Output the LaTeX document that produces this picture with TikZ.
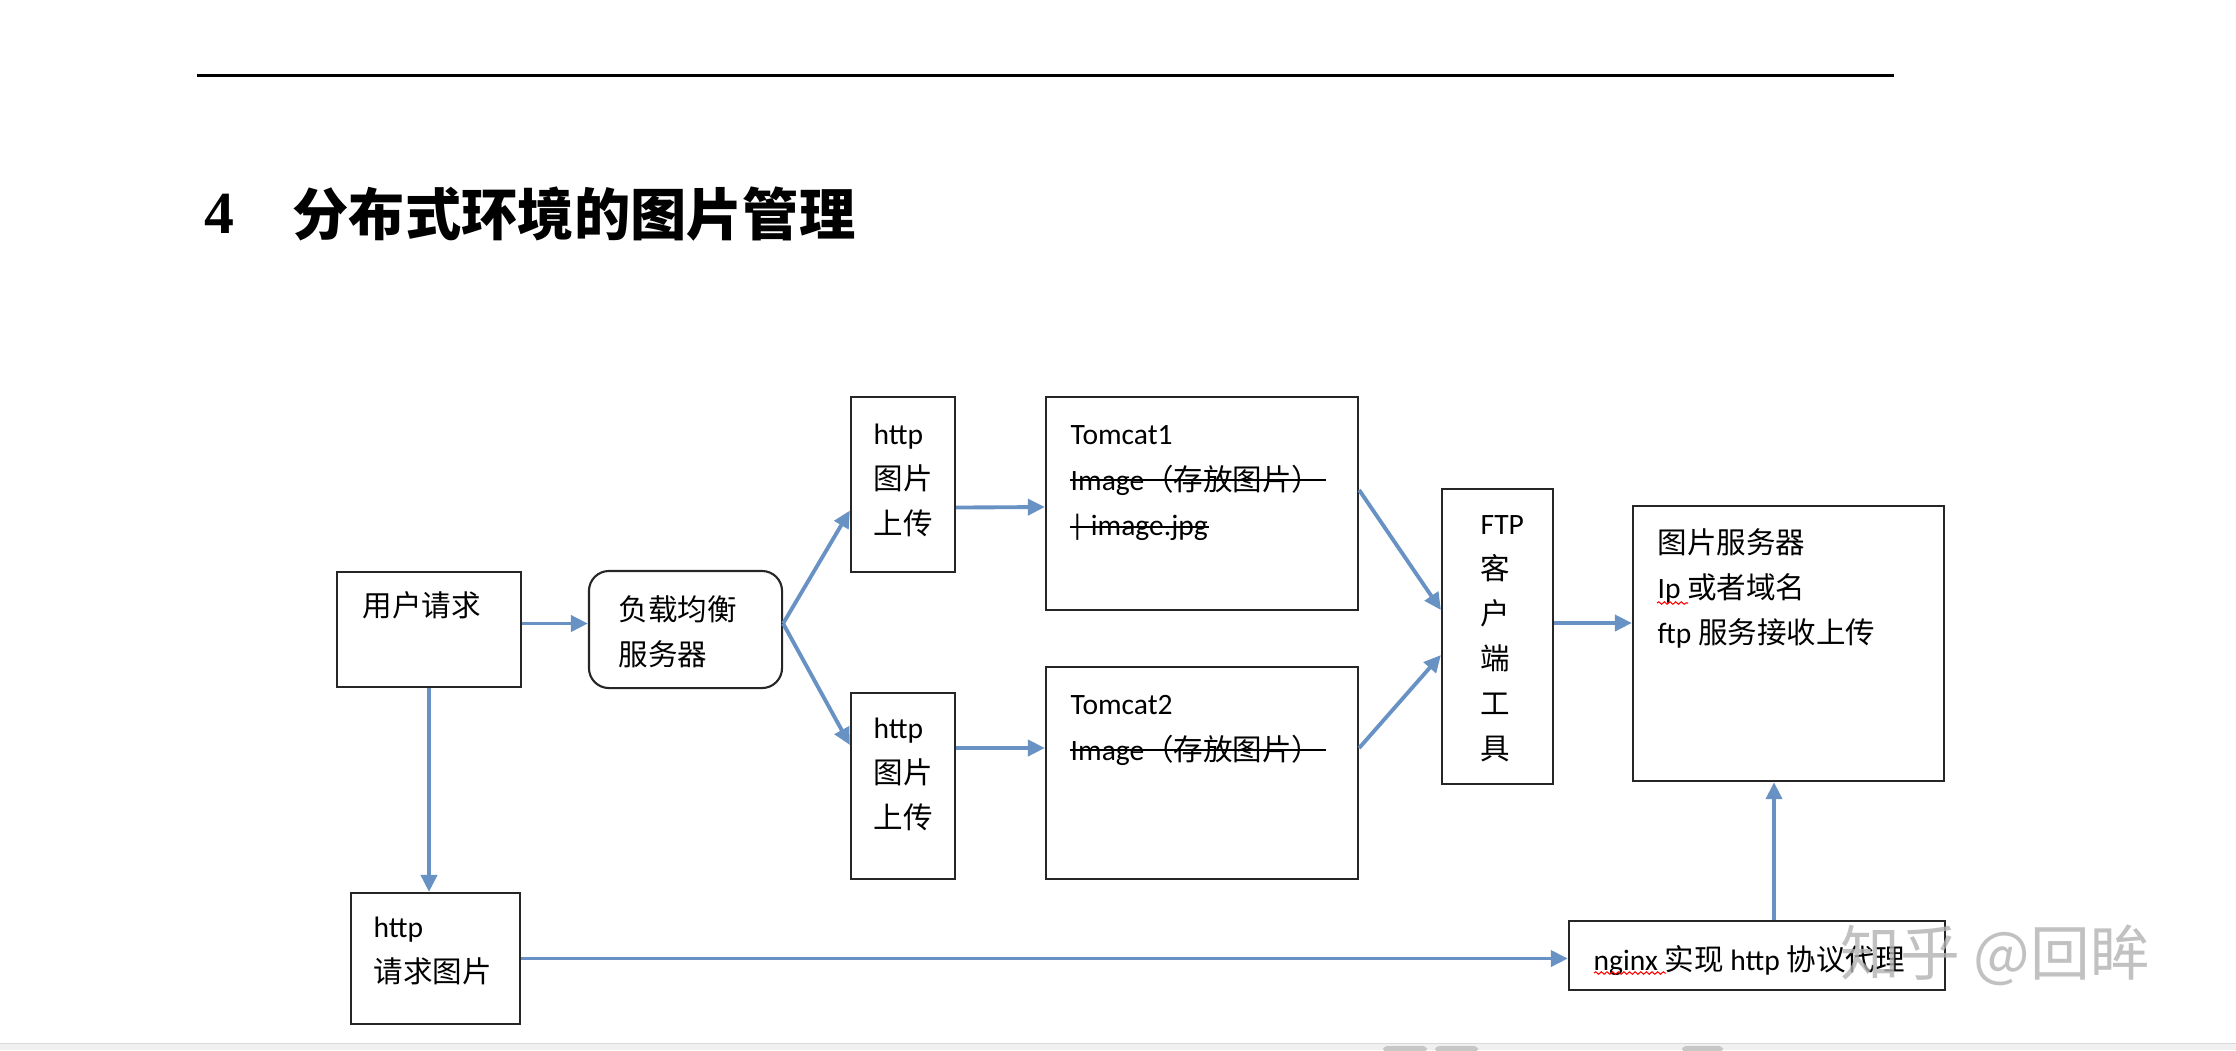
\documentclass[tikz,border=0pt]{standalone}
\usepackage{fontspec}
\setmainfont{Carlito}
\newfontfamily\zhfont{Noto Sans CJK SC}
\newfontfamily\numfont{Liberation Serif}
\usepackage{xcolor}
\usetikzlibrary{arrows.meta,positioning,decorations.pathmorphing}
\definecolor{flowblue}{RGB}{104,146,196}
\newcommand{\zh}[1]{{\zhfont #1}}

\tikzset{
  box/.style={draw=black!85,line width=0.6pt,inner sep=0pt},
  roundbox/.style={box,rounded corners=0.2cm},
  txt/.style={inner sep=0pt,anchor=west,align=left,font=\fontsize{8.4}{12.8}\selectfont},
  flow/.style={draw=flowblue,line width=1.1pt,-{Triangle[length=0.17cm,width=0.16cm]}},
  strike/.style={line width=0.45pt},
  typo/.style={red,line width=0.3pt,decorate,decoration={snake,amplitude=0.35pt,segment length=1.6pt}}
}

\begin{document}
\begin{tikzpicture}[x=0.01cm,y=-0.01cm]
\useasboundingbox (0,0) rectangle (2236,1050);
% rule and heading
\draw[line width=0.85pt] (197,75) -- (1894,75);
\node[anchor=west,inner sep=0pt,font=\numfont\bfseries\fontsize{17}{20}\selectfont] (num) at (204,214) {4};
\node[anchor=west,inner sep=0pt,font=\zhfont\bfseries\fontsize{16}{20}\selectfont] (title) at (292,214) {分布式环境的图片管理};

% boxes
\node[box,minimum width=1.84cm,minimum height=1.15cm] (user) at (429,629.5) {};
\node[roundbox,minimum width=1.93cm,minimum height=1.17cm] (lb) at (685.5,629.5) {};
\node[box,minimum width=1.04cm,minimum height=1.75cm] (up1) at (903,484.5) {};
\node[box,minimum width=1.04cm,minimum height=1.86cm] (up2) at (903,786) {};
\node[box,minimum width=3.12cm,minimum height=2.13cm] (tc1) at (1202,503.5) {};
\node[box,minimum width=3.12cm,minimum height=2.12cm] (tc2) at (1202,773) {};
\node[box,minimum width=1.11cm,minimum height=2.95cm] (ftp) at (1497.5,636.5) {};
\node[box,minimum width=3.11cm,minimum height=2.75cm] (srv) at (1788.5,643.5) {};
\node[box,minimum width=1.69cm,minimum height=1.31cm] (req) at (435.5,958.5) {};
\node[box,minimum width=3.76cm,minimum height=0.69cm] (ngx) at (1757,955.5) {};

% texts
\node[txt] (userT) at (362,605) {\zh{用户请求}};
\node[txt] (lbT) at (618,632) {\zh{负载均衡}\\\zh{服务器}};
\node[txt] (up1T) at (873,480) {http\\\zh{图片}\\\zh{上传}};
\node[txt] (up2T) at (873,774) {http\\\zh{图片}\\\zh{上传}};
\node[txt] (tc1T) at (1070,435) {Tomcat1};
\node[txt] (img1) at (1070,480) {Image\zh{（存放图片）}};
\node[txt] (jpg1) at (1070,527) {| image.jpg};
\node[txt] (tc2T) at (1070,705) {Tomcat2};
\node[txt] (img2) at (1070,750) {Image\zh{（存放图片）}};
\node[txt] (ftpT) at (1480,639) {FTP\\\zh{客}\\\zh{户}\\\zh{端}\\\zh{工}\\\zh{具}};
\node[txt] (srvT) at (1657,588) {\zh{图片服务器}\\Ip \zh{或者域名}\\ftp \zh{服务接收上传}};
\node[txt] (reqT) at (373,951) {http\\\zh{请求图片}};
\node[txt] (ngxT) at (1593,960) {nginx \zh{实现} http \zh{协议代理}};

% struck-out lines and spell marks
\draw[strike] (img1.west) -- ++(256,0);
\draw[strike] (jpg1.west) -- (jpg1.east);
\draw[strike] (img2.west) -- ++(256,0);
\draw[typo] (1657,603) -- (1688,603);
\draw[typo] (1594,973) -- (1666,973);

% connectors
\draw[flow] ([yshift=0.06cm]user.east) -- ([yshift=0.06cm]lb.west);
\draw[flow] ([yshift=0.06cm]lb.east) -- ([yshift=-0.26cm]up1.west);
\draw[flow] ([yshift=0.06cm]lb.east) -- ([yshift=0.41cm]up2.west);
\draw[flow] ([yshift=-0.23cm]up1.east) -- ([yshift=-0.035cm]tc1.west);
\draw[flow] ([yshift=0.38cm]up2.east) -- ([yshift=0.25cm]tc2.west);
\draw[flow] ([yshift=0.135cm]tc1.east) -- ([yshift=0.265cm]ftp.west);
\draw[flow] ([yshift=0.25cm]tc2.east) -- ([yshift=-0.185cm]ftp.west);
\draw[flow] ([yshift=0.135cm]ftp.east) -- ([yshift=0.205cm]srv.west);
\draw[flow] (user.south) -- (user.south |- req.north);
\draw[flow] (req.east) -- (req.east -| ngx.west);
\draw[flow] ([xshift=0.17cm]ngx.north) -- ([xshift=0.17cm]ngx.north |- srv.south);

% watermark
\node[anchor=west,inner sep=0pt,text=gray!60,opacity=0.8,font=\zhfont\fontsize{17}{20}\selectfont] (mark) at (1840,955) {知乎 @回眸};

% bottom bar
\fill[black!6] (0,1043) rectangle (2236,1050);
\draw[black!15,line width=0.3pt] (0,1043) -- (2236,1043);
\fill[black!22,rounded corners=0.04cm] (1383,1046) rectangle (1427,1052);
\fill[black!22,rounded corners=0.04cm] (1435,1046) rectangle (1478,1052);
\fill[black!22,rounded corners=0.04cm] (1682,1046) rectangle (1723,1052);
\end{tikzpicture}
\end{document}
